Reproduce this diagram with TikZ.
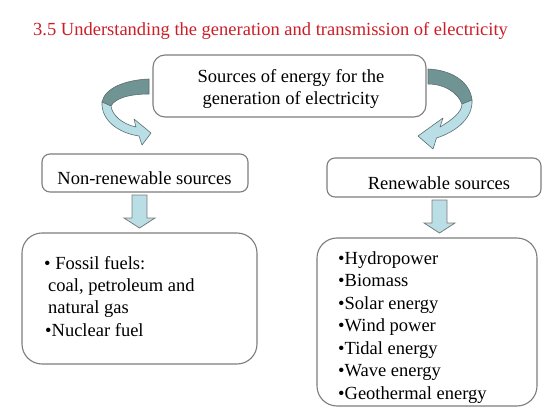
\documentclass[tikz,border=0pt]{standalone}
\usepackage{fontspec}
\setmainfont{Liberation Serif}
\definecolor{titlered}{RGB}{204,30,40}
\definecolor{arrowdark}{RGB}{112,148,148}
\definecolor{arrowlight}{RGB}{185,222,230}
\definecolor{arrowedge}{RGB}{90,110,110}
\definecolor{boxgray}{RGB}{125,125,125}
\begin{document}
\begin{tikzpicture}[x=1pt,y=-1pt,
  box/.style={draw=boxgray, line width=1.1pt, rounded corners=#1, fill=white, inner sep=0pt},
  box/.default=10pt,
  txt/.style={font=\fontsize{18.5}{22}\selectfont, inner sep=0pt, text=black},
  darkface/.style={fill=arrowdark, draw=arrowedge, line width=0.6pt, line join=round},
  lightface/.style={fill=arrowlight, draw=arrowedge, line width=0.6pt, line join=round},
  blockarrow/.style={fill=arrowlight, draw=boxgray, line width=0.8pt, line join=miter}]
\useasboundingbox (0,0) rectangle (560,420);
\fill[white] (0,0) rectangle (560,420);

% title
\node[txt, text=titlered, anchor=base west] (title) at (33,36)
  {3.5 Understanding the generation and transmission of electricity};

% top box
\node[box=12pt, minimum width=273pt, minimum height=62pt] (topbox) at (289.5,86) {};
\node[txt, anchor=base] (top1) at (291,83) {Sources of energy for the};
\node[txt, anchor=base] (top2) at (291,105) {generation of electricity};

% left curved arrow
\draw[darkface] (149,79) .. controls (125,80) and (105,88) .. (102,102)
  -- (111,106) .. controls (115,98) and (130,94) .. (149,94) -- cycle;
\draw[lightface] (102,102) .. controls (101,120) and (118,133) .. (139,136)
  -- (142,145) -- (151,133) -- (134,119) -- (136,127)
  .. controls (122,124) and (112,115) .. (111,106) -- cycle;

% right curved arrow
\draw[darkface] (428,69) .. controls (452,70) and (470,82) .. (472,100)
  -- (462,104) .. controls (458,93) and (445,84) .. (428,84) -- cycle;
\draw[lightface] (472,100) .. controls (473,117) and (458,131) .. (436.5,138)
  -- (433,149) -- (418,136) -- (443,118) -- (440,127)
  .. controls (452,120) and (462,112) .. (462,104) -- cycle;

% second-level boxes
\node[box=8pt, minimum width=206pt, minimum height=38pt] (nrbox) at (145,173) {};
\node[txt, anchor=base] (nr) at (144.5,184) {Non-renewable sources};
\node[box=8pt, minimum width=214pt, minimum height=39pt] (rbox) at (434,177.5) {};
\node[txt, anchor=base] (r) at (439,189) {Renewable sources};

% down arrows
\draw[blockarrow] (132,195) -- (147,195) -- (147,218) -- (155,218) -- (139.5,228)
  -- (124,218) -- (132,218) -- cycle;
\draw[blockarrow] (432,200) -- (447,200) -- (447,223) -- (455,223) -- (439.5,233)
  -- (424,223) -- (432,223) -- cycle;

% bottom boxes
\node[box=20pt, minimum width=235pt, minimum height=131pt] (nrlist) at (139.5,298.5) {};
\node[box=20pt, minimum width=220pt, minimum height=168pt] (rlist) at (427,322) {};

% non-renewable list
\node[txt, anchor=base west] (l1) at (44,269) {\textbullet\ Fossil fuels:};
\node[txt, anchor=base west] (l2) at (48,291) {coal, petroleum and};
\node[txt, anchor=base west] (l3) at (48,313.5) {natural gas};
\node[txt, anchor=base west] (l4) at (45,336) {\textbullet Nuclear fuel};

% renewable list
\node[txt, anchor=base west] (r1) at (338,264) {\textbullet Hydropower};
\node[txt, anchor=base west] (r2) at (338,286.5) {\textbullet Biomass};
\node[txt, anchor=base west] (r3) at (338,309) {\textbullet Solar energy};
\node[txt, anchor=base west] (r4) at (338,331.5) {\textbullet Wind power};
\node[txt, anchor=base west] (r5) at (338,354) {\textbullet Tidal energy};
\node[txt, anchor=base west] (r6) at (338,376.5) {\textbullet Wave energy};
\node[txt, anchor=base west] (r7) at (338,399) {\textbullet Geothermal energy};
\end{tikzpicture}
\end{document}
